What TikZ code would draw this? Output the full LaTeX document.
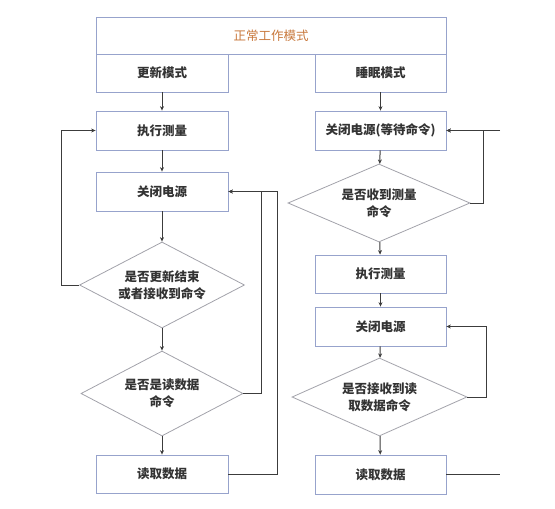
\documentclass[tikz,border=0pt]{standalone}
\usepackage{fontspec}
\newfontfamily\cjk{Noto Sans CJK SC}
\usetikzlibrary{shapes.geometric,arrows.meta}
\definecolor{boxcol}{HTML}{97A3CC}
\definecolor{diacol}{HTML}{A2A2AA}
\definecolor{linecol}{HTML}{3C3C3C}
\definecolor{titlecol}{HTML}{C8783C}
\tikzset{
  stepbox/.style={draw=boxcol, line width=0.8pt, minimum width=132pt, minimum height=38pt, inner sep=0pt, font=\cjk\bfseries\fontsize{12.5}{15}\selectfont, text=black!80},
  decide/.style={draw=diacol, line width=0.8pt, diamond, aspect=2, inner sep=0pt, align=center, text=black!80, font=\cjk\bfseries\fontsize{12.5}{17}\selectfont},
  flow/.style={->, draw=linecol, line width=1pt}
}
\begin{document}
\begin{tikzpicture}[x=1pt, y=-1pt, >={Stealth[length=4.5pt,width=4pt]}]
\useasboundingbox (0,0) rectangle (555,509);
% top mode box
\node[stepbox, minimum width=350pt, minimum height=37pt, text=titlecol, font=\cjk\fontsize{12.5}{15}\selectfont] (mode) at (271,35.5) {正常工作模式};
\node[stepbox] (upd) at (162,73) {更新模式};
\node[stepbox, minimum width=131pt] (slp) at (380.5,73) {睡眠模式};
% update branch
\node[stepbox, minimum height=39pt] (meas1) at (162,130.5) {执行测量};
\node[stepbox, minimum height=39pt] (off1) at (162,191.5) {关闭电源};
\node[decide, minimum width=165pt, minimum height=86pt] (dec1) at (162,285) {是否更新结束\\或者接收到命令};
\node[decide, minimum width=162pt, minimum height=85pt] (dec2) at (162,393.5) {是否是读数据\\命令};
\node[stepbox] (read1) at (162,474) {读取数据};
% sleep branch
\node[stepbox, minimum width=131pt, minimum height=39pt] (wait) at (380.5,130.5) {关闭电源(等待命令)};
\node[decide, minimum width=182pt, minimum height=78pt] (dec3) at (379,203) {是否收到测量\\命令};
\node[stepbox, minimum width=131pt] (meas2) at (380.5,274) {执行测量};
\node[stepbox, minimum width=131pt, minimum height=39pt] (off2) at (380.5,326.5) {关闭电源};
\node[decide, minimum width=175pt, minimum height=78pt] (dec4) at (379.5,397) {是否接收到读\\取数据命令};
\node[stepbox, minimum width=131pt, minimum height=39pt] (read2) at (380.5,474.5) {读取数据};
\coordinate (in2) at (500,130.5);
\coordinate (out2) at (500,474.5);

\draw[flow] (upd) -- (meas1);
\draw[flow] (meas1) -- (off1);
\draw[flow] (off1) -- (dec1);
\draw[flow] (dec1) -- (dec2);
\draw[flow] (dec2) -- (read1);
\draw[flow] (dec1.west) -- ++(-17.5,0) |- (meas1.west);
\draw[flow] (dec2.east) -- ++(18,0) |- (off1.east);
\draw[flow] (read1.east) -- ++(49,0) |- (off1.east);

\draw[flow] (slp) -- (wait);
\draw[flow] (wait) -- (dec3);
\draw[flow] (dec3) -- (meas2);
\draw[flow] (meas2) -- (off2);
\draw[flow] (off2) -- (dec4);
\draw[flow] (dec4) -- (read2);
\draw[flow] (dec3.east) -- ++(13,0) |- (wait.east);
\draw[flow] (in2) -- (wait.east);
\draw[flow] (dec4.east) -- ++(19,0) |- (off2.east);
\draw[draw=linecol, line width=1pt] (read2.east) -- (out2);
\end{tikzpicture}
\end{document}
